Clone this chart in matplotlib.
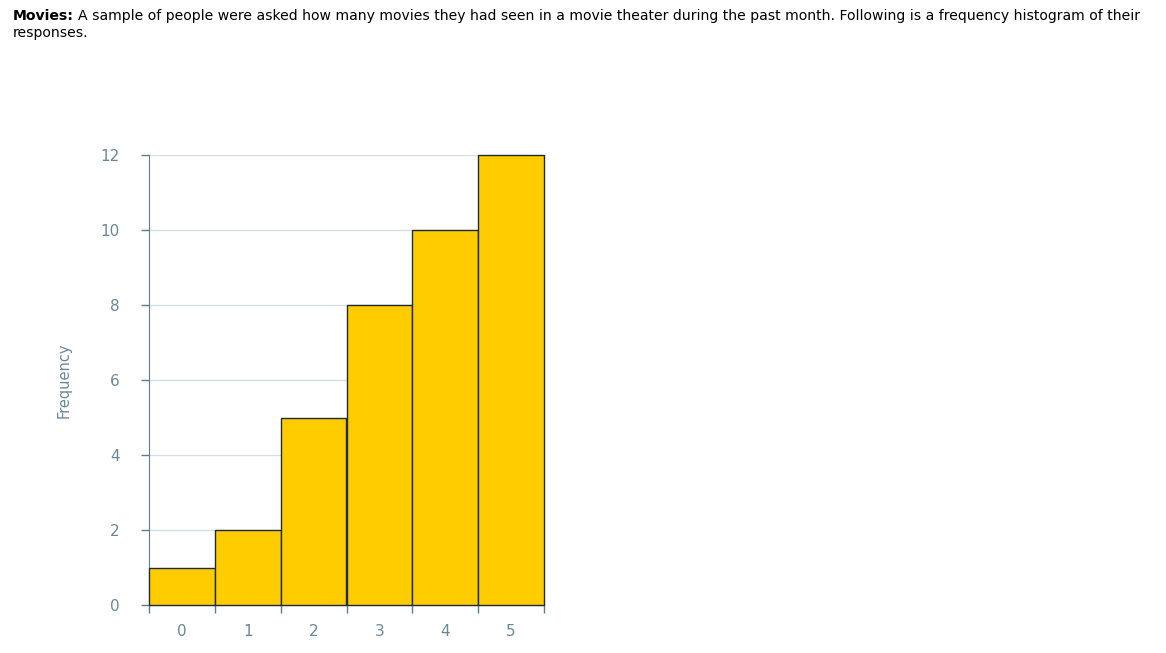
import matplotlib.pyplot as plt
from matplotlib.ticker import FixedLocator

# 응답 (본 영화 수)와 빈도
movies = [0, 1, 2, 3, 4, 5]
frequency = [1, 2, 5, 8, 10, 12]
y_ticks = [0, 2, 4, 6, 8, 10, 12]

axis_color = '#5f7d88'
label_color = '#6a8797'

plt.rcParams['font.family'] = ['DejaVu Sans']

fig = plt.figure(figsize=(11.66, 6.53), dpi=100)
ax = fig.add_axes([149/1166, 1 - 605/653, 395/1166, 450/653])

bars = ax.bar(movies, frequency, width=1.0, color='#ffcc00', edgecolor='#1b2b3b',
              linewidth=1.0, zorder=3)
for b in bars:
    b.set_clip_on(False)

ax.set_xlim(-0.5, 5.5)
ax.set_ylim(0, 12)

# 격자선
ax.set_yticks(y_ticks)
ax.grid(axis='y', color='#d3dfe3', linewidth=1.0, zorder=0)
ax.set_axisbelow(True)

# x축: 막대 가장자리에 눈금, 가운데에 라벨
ax.set_xticks(movies)
ax.xaxis.set_minor_locator(FixedLocator([m - 0.5 for m in movies] + [5.5]))
ax.tick_params(axis='x', which='major', length=0, pad=14, labelsize=11,
               labelcolor=label_color)
ax.tick_params(axis='x', which='minor', length=6, width=1, color=axis_color)
ax.tick_params(axis='y', length=6, width=1, color=axis_color, pad=15,
               labelsize=11, labelcolor=label_color)

for s in ['top', 'right']:
    ax.spines[s].set_visible(False)
ax.spines['left'].set_color(axis_color)
ax.spines['bottom'].set_color(axis_color)

ax.set_ylabel('Frequency', fontsize=10.5, color='#6a8797', labelpad=21)

# 제목 텍스트
t1 = fig.text(13/1166, 1 - 16/653, 'Movies:', fontsize=10.1, fontweight='bold',
              va='center', ha='left', color='black')
fig.canvas.draw()
bb = t1.get_window_extent()
x2 = (bb.x1 + 4) / fig.bbox.width
fig.text(x2, 1 - 16/653,
         'A sample of people were asked how many movies they had seen in a movie theater '
         'during the past month. Following is a frequency histogram of their',
         fontsize=10.1, va='center', ha='left', color='black')
fig.text(13/1166, 1 - 33/653, 'responses.', fontsize=10.1, va='center', ha='left',
         color='black')

fig.savefig('out.png', dpi=100)
